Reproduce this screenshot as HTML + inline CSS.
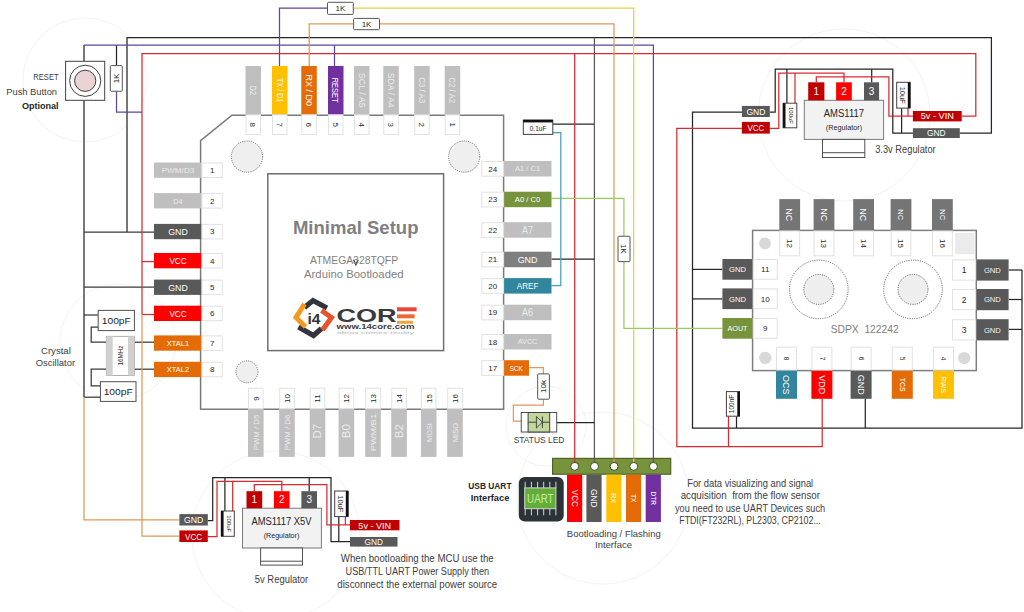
<!DOCTYPE html><html><head><meta charset="utf-8"><style>html,body{margin:0;padding:0;background:#fff;}svg{display:block;}text{font-family:"Liberation Sans",sans-serif;}</style></head><body>
<svg width="1024" height="612" viewBox="0 0 1024 612">
<rect x="0" y="0" width="1024" height="612" fill="#ffffff"/>
<circle cx="85" cy="80" r="62" fill="none" stroke="#f3f3f3" stroke-width="1"/>
<circle cx="118" cy="342" r="58" fill="none" stroke="#f3f3f3" stroke-width="1"/>
<circle cx="844" cy="115" r="86" fill="none" stroke="#f3f3f3" stroke-width="1"/>
<circle cx="276" cy="535" r="84" fill="none" stroke="#f3f3f3" stroke-width="1"/>
<circle cx="603" cy="498" r="86" fill="none" stroke="#f3f3f3" stroke-width="1"/>
<circle cx="546" cy="426" r="40" fill="none" stroke="#f3f3f3" stroke-width="1"/>
<polyline points="84,45 84,61.3" fill="none" stroke="#262626" stroke-width="1.25" stroke-linejoin="miter"/>
<polyline points="84,100.3 84,397.2" fill="none" stroke="#262626" stroke-width="1.25" stroke-linejoin="miter"/>
<polyline points="116.5,45 116.5,65.6" fill="none" stroke="#262626" stroke-width="1.25" stroke-linejoin="miter"/>
<polyline points="127,232 127,37.5 991.4,37.5 991.4,133.1 959.8,133.1" fill="none" stroke="#262626" stroke-width="1.25" stroke-linejoin="miter"/>
<polyline points="84,232 154,232" fill="none" stroke="#3a3a3a" stroke-width="1.25" stroke-linejoin="miter"/>
<polyline points="84,287 154,287" fill="none" stroke="#3a3a3a" stroke-width="1.25" stroke-linejoin="miter"/>
<polyline points="84,315 98.2,315" fill="none" stroke="#3a3a3a" stroke-width="1.25" stroke-linejoin="miter"/>
<polyline points="98.2,327 91.2,327 91.2,342.2 106.3,342.2" fill="none" stroke="#3a3a3a" stroke-width="1.25" stroke-linejoin="miter"/>
<polyline points="134.4,342.2 154,342.2" fill="none" stroke="#3a3a3a" stroke-width="1.25" stroke-linejoin="miter"/>
<polyline points="134.4,369.2 154,369.2" fill="none" stroke="#3a3a3a" stroke-width="1.25" stroke-linejoin="miter"/>
<polyline points="106.3,369.2 91.2,369.2 91.2,385.8 100.4,385.8" fill="none" stroke="#3a3a3a" stroke-width="1.25" stroke-linejoin="miter"/>
<polyline points="84,397.2 100.4,397.2" fill="none" stroke="#3a3a3a" stroke-width="1.25" stroke-linejoin="miter"/>
<polyline points="552.8,124 594.4,124" fill="none" stroke="#262626" stroke-width="1.25" stroke-linejoin="miter"/>
<polyline points="594.4,37.5 594.4,462" fill="none" stroke="#5a5a5a" stroke-width="1.25" stroke-linejoin="miter"/>
<polyline points="551.6,259.2 594.4,259.2" fill="none" stroke="#262626" stroke-width="1.25" stroke-linejoin="miter"/>
<polyline points="556.7,422.7 594.4,422.7" fill="none" stroke="#262626" stroke-width="1.25" stroke-linejoin="miter"/>
<polyline points="741.9,112.2 692.5,112.2 692.5,428 1022,428 1022,270" fill="none" stroke="#262626" stroke-width="1.25" stroke-linejoin="miter"/>
<polyline points="1008.7,270 1022,270" fill="none" stroke="#262626" stroke-width="1.25" stroke-linejoin="miter"/>
<polyline points="1008.7,299.5 1022,299.5" fill="none" stroke="#262626" stroke-width="1.25" stroke-linejoin="miter"/>
<polyline points="1008.7,329.4 1022,329.4" fill="none" stroke="#262626" stroke-width="1.25" stroke-linejoin="miter"/>
<polyline points="692.5,269.4 722.4,269.4" fill="none" stroke="#262626" stroke-width="1.25" stroke-linejoin="miter"/>
<polyline points="692.5,298.9 722.4,298.9" fill="none" stroke="#262626" stroke-width="1.25" stroke-linejoin="miter"/>
<polyline points="769.8,112.2 775.2,112.2 775.2,69.1 892.8,69.1 892.8,133.1 912.9,133.1" fill="none" stroke="#262626" stroke-width="1.25" stroke-linejoin="miter"/>
<polyline points="786.9,69.1 786.9,103.2" fill="none" stroke="#262626" stroke-width="1.25" stroke-linejoin="miter"/>
<polyline points="871.7,69.1 871.7,82.3" fill="none" stroke="#262626" stroke-width="1.25" stroke-linejoin="miter"/>
<polyline points="901.6,108.1 901.6,133.1" fill="none" stroke="#262626" stroke-width="1.25" stroke-linejoin="miter"/>
<polyline points="865.3,398.8 865.3,428" fill="none" stroke="#262626" stroke-width="1.25" stroke-linejoin="miter"/>
<polyline points="736.5,416.2 736.5,428" fill="none" stroke="#262626" stroke-width="1.25" stroke-linejoin="miter"/>
<polyline points="207.8,520.6 212.7,520.6 212.7,477.5 331,477.5 331,541.6 350,541.6" fill="none" stroke="#262626" stroke-width="1.25" stroke-linejoin="miter"/>
<polyline points="224.9,477.5 224.9,511" fill="none" stroke="#262626" stroke-width="1.25" stroke-linejoin="miter"/>
<polyline points="309.2,477.5 309.2,491.2" fill="none" stroke="#262626" stroke-width="1.25" stroke-linejoin="miter"/>
<polyline points="338.8,516.6 338.8,541.6" fill="none" stroke="#262626" stroke-width="1.25" stroke-linejoin="miter"/>
<polyline points="142,314.5 142,53.5 975.8,53.5 975.8,116.1 961.7,116.1" fill="none" stroke="#dc2a30" stroke-width="1.25" stroke-linejoin="miter"/>
<polyline points="142,261.6 154,261.6" fill="none" stroke="#dc2a30" stroke-width="1.25" stroke-linejoin="miter"/>
<polyline points="142,314.5 154,314.5" fill="none" stroke="#dc2a30" stroke-width="1.25" stroke-linejoin="miter"/>
<polyline points="574.7,53.5 574.7,462" fill="none" stroke="#dc2a30" stroke-width="1.25" stroke-linejoin="miter"/>
<polyline points="741.9,128.4 676.8,128.4 676.8,446.5 822.2,446.5 822.2,398.8" fill="none" stroke="#dc2a30" stroke-width="1.25" stroke-linejoin="miter"/>
<polyline points="728.5,416.2 728.5,446.5" fill="none" stroke="#dc2a30" stroke-width="1.25" stroke-linejoin="miter"/>
<polyline points="769.8,128.4 778.8,128.4 778.8,73 844,73 844,82.3" fill="none" stroke="#dc2a30" stroke-width="1.25" stroke-linejoin="miter"/>
<polyline points="795,73 795,103.2" fill="none" stroke="#dc2a30" stroke-width="1.25" stroke-linejoin="miter"/>
<polyline points="816.3,82.3 816.3,76.9 888.9,76.9 888.9,116.1 912.9,116.1" fill="none" stroke="#dc2a30" stroke-width="1.25" stroke-linejoin="miter"/>
<polyline points="908,108.1 908,116.1" fill="none" stroke="#dc2a30" stroke-width="1.25" stroke-linejoin="miter"/>
<polyline points="207.8,536.7 217,536.7 217,481.4 281.8,481.4 281.8,491.2" fill="none" stroke="#dc2a30" stroke-width="1.25" stroke-linejoin="miter"/>
<polyline points="232.7,481.4 232.7,511" fill="none" stroke="#dc2a30" stroke-width="1.25" stroke-linejoin="miter"/>
<polyline points="254.3,491.2 254.3,484.7 326.9,484.7 326.9,524.8 350,524.8" fill="none" stroke="#dc2a30" stroke-width="1.25" stroke-linejoin="miter"/>
<polyline points="345.4,516.6 345.4,524.8" fill="none" stroke="#dc2a30" stroke-width="1.25" stroke-linejoin="miter"/>
<polyline points="84,45 653.4,45 653.4,462" fill="none" stroke="#5e479c" stroke-width="1.25" stroke-linejoin="miter"/>
<polyline points="116.5,91.25 116.5,112 142,112" fill="none" stroke="#5e479c" stroke-width="1.25" stroke-linejoin="miter"/>
<polyline points="334.5,45 334.5,66" fill="none" stroke="#5e479c" stroke-width="1.25" stroke-linejoin="miter"/>
<polyline points="279.5,66 279.5,8.1 327.5,8.1" fill="none" stroke="#5e479c" stroke-width="1.25" stroke-linejoin="miter"/>
<polyline points="353.3,8.1 633.7,8.1 633.7,462" fill="none" stroke="#f2cc4a" stroke-width="1.25" stroke-linejoin="miter"/>
<polyline points="309.2,66 309.2,23.75 353.6,23.75" fill="none" stroke="#e0985a" stroke-width="1.25" stroke-linejoin="miter"/>
<polyline points="379.5,23.75 614,23.75 614,462" fill="none" stroke="#e0985a" stroke-width="1.25" stroke-linejoin="miter"/>
<polyline points="529,367.7 543.4,367.7 543.4,373.9" fill="none" stroke="#e0985a" stroke-width="1.25" stroke-linejoin="miter"/>
<polyline points="543.4,399.2 543.4,405 513.4,405 513.4,421.1 521.25,421.1" fill="none" stroke="#e0985a" stroke-width="1.25" stroke-linejoin="miter"/>
<polyline points="179.4,519.8 84,519.8 84,397.2" fill="none" stroke="#e0985a" stroke-width="1.25" stroke-linejoin="miter"/>
<polyline points="179.4,536.2 142,536.2 142,314.5" fill="none" stroke="#e0985a" stroke-width="1.25" stroke-linejoin="miter"/>
<polyline points="551.6,198.3 623.9,198.3 623.9,236.25" fill="none" stroke="#98cc5e" stroke-width="1.25" stroke-linejoin="miter"/>
<polyline points="623.9,261.6 623.9,328.4 722.4,328.4" fill="none" stroke="#98cc5e" stroke-width="1.25" stroke-linejoin="miter"/>
<polyline points="552.8,132.7 560.8,132.7 560.8,285.6 551.6,285.6" fill="none" stroke="#4a9eb8" stroke-width="1.25" stroke-linejoin="miter"/>
<rect x="65.6" y="61.3" width="39.1" height="39" fill="#fff" stroke="#404040" stroke-width="1"/>
<circle cx="85.2" cy="80.8" r="15.6" fill="#fff" stroke="#404040" stroke-width="1"/>
<circle cx="85.2" cy="80.8" r="10.6" fill="#ead3d3" stroke="#404040" stroke-width="1"/>
<text x="58.6" y="79.7" font-size="8.6" fill="#404040" text-anchor="end" textLength="25.3" lengthAdjust="spacingAndGlyphs">RESET</text>
<text x="57" y="95.3" font-size="8.6" fill="#404040" text-anchor="end" textLength="50.7" lengthAdjust="spacingAndGlyphs">Push Button</text>
<text x="58.6" y="109.4" font-size="8.6" fill="#262626" text-anchor="end" font-weight="bold" textLength="36.7" lengthAdjust="spacingAndGlyphs">Optional</text>
<rect x="110.3" y="65.6" width="12" height="25.65" fill="#fff" stroke="#555" stroke-width="1" rx="1"/>
<text x="116.3" y="81.3" font-size="8" fill="#262626" text-anchor="middle" transform="rotate(-90 116.3 78.42)">1K</text>
<rect x="327.5" y="2.3" width="25.8" height="12.1" fill="#fff" stroke="#555" stroke-width="1" rx="1"/>
<text x="340.4" y="11.23" font-size="8" fill="#262626" text-anchor="middle">1K</text>
<rect x="353.6" y="18.4" width="25.9" height="11.3" fill="#fff" stroke="#555" stroke-width="1" rx="1"/>
<text x="366.55" y="26.93" font-size="8" fill="#262626" text-anchor="middle">1K</text>
<rect x="618" y="236.25" width="12" height="25.35" fill="#fff" stroke="#555" stroke-width="1" rx="1"/>
<text x="624" y="251.62" font-size="7.5" fill="#262626" text-anchor="middle" transform="rotate(90 624 248.93)">1K</text>
<rect x="537.7" y="373.9" width="11.7" height="25.3" fill="#fff" stroke="#555" stroke-width="1" rx="1"/>
<text x="543.55" y="389.43" font-size="8" fill="#262626" text-anchor="middle" transform="rotate(-90 543.55 386.55)">10k</text>
<rect x="523.3" y="120.2" width="29.5" height="14.2" fill="#fff" stroke="#404040" stroke-width="1"/>
<rect x="523.3" y="119.7" width="29.5" height="2.7" fill="#111"/>
<text x="538.05" y="130.64" font-size="6.5" fill="#262626" text-anchor="middle">0.1uF</text>
<rect x="783.3" y="103.2" width="13.5" height="24.6" fill="#fff" stroke="#404040" stroke-width="1"/>
<rect x="782.8" y="103.2" width="2.7" height="24.6" fill="#111"/>
<text x="791.05" y="117.66" font-size="6" fill="#262626" text-anchor="middle" transform="rotate(90 791.05 115.5)">100uF</text>
<rect x="896.7" y="82.3" width="13.3" height="25.8" fill="#fff" stroke="#404040" stroke-width="1"/>
<rect x="907.8" y="82.3" width="2.7" height="25.8" fill="#111"/>
<text x="902.35" y="97.9" font-size="7.5" fill="#262626" text-anchor="middle" transform="rotate(90 902.35 95.2)">10uF</text>
<rect x="726.4" y="391.6" width="13.1" height="24.6" fill="#fff" stroke="#404040" stroke-width="1"/>
<rect x="737.3" y="391.6" width="2.7" height="24.6" fill="#111"/>
<text x="731.95" y="406.24" font-size="6.5" fill="#262626" text-anchor="middle" transform="rotate(-90 731.95 403.9)">100nF</text>
<rect x="221.4" y="511" width="12.9" height="25.3" fill="#fff" stroke="#404040" stroke-width="1"/>
<rect x="220.9" y="511" width="2.7" height="25.3" fill="#111"/>
<text x="228.85" y="525.81" font-size="6" fill="#262626" text-anchor="middle" transform="rotate(90 228.85 523.65)">100uF</text>
<rect x="334.7" y="491" width="13.3" height="25.6" fill="#fff" stroke="#404040" stroke-width="1"/>
<rect x="345.8" y="491" width="2.7" height="25.6" fill="#111"/>
<text x="340.35" y="506.5" font-size="7.5" fill="#262626" text-anchor="middle" transform="rotate(90 340.35 503.8)">10uF</text>
<rect x="98.2" y="310.4" width="36.2" height="20.2" fill="#fff" stroke="#505050" stroke-width="1"/>
<text x="116.3" y="323.92" font-size="9.5" fill="#262626" text-anchor="middle" textLength="29" lengthAdjust="spacingAndGlyphs">100pF</text>
<rect x="100.4" y="381.7" width="35.6" height="19.7" fill="#fff" stroke="#505050" stroke-width="1"/>
<text x="118.2" y="394.92" font-size="9.5" fill="#262626" text-anchor="middle" textLength="29" lengthAdjust="spacingAndGlyphs">100pF</text>
<rect x="106.3" y="336.3" width="28.1" height="39.3" fill="#fff" stroke="#9a9a9a" stroke-width="0.8"/>
<rect x="106.3" y="336.3" width="6.4" height="39.3" fill="#d0d0d0"/>
<rect x="128" y="336.3" width="6.4" height="39.3" fill="#d0d0d0"/>
<text x="120.7" y="358.02" font-size="7" fill="#262626" text-anchor="middle" textLength="20" lengthAdjust="spacingAndGlyphs" transform="rotate(-90 120.7 355.5)">16MHz</text>
<text x="55.9" y="353.5" font-size="9.5" fill="#404040" text-anchor="middle" textLength="29.8" lengthAdjust="spacingAndGlyphs">Crystal</text>
<text x="55.4" y="365.5" font-size="9.5" fill="#404040" text-anchor="middle" textLength="39.3" lengthAdjust="spacingAndGlyphs">Oscillator</text>
<path d="M231.9,115.2 L503.6,115.2 L503.6,409.2 L200.6,409.2 L200.6,140.6 Z" fill="#fff" stroke="#7a7a7a" stroke-width="1.5"/>
<rect x="267.8" y="173.8" width="175.8" height="176.8" fill="#fff" stroke="#6e6e6e" stroke-width="1.5"/>
<circle cx="247" cy="156.6" r="15.6" fill="#efefef" stroke="#444" stroke-width="0.8" stroke-dasharray="1 1.2"/>
<circle cx="464.2" cy="156.6" r="15.6" fill="#efefef" stroke="#444" stroke-width="0.8" stroke-dasharray="1 1.2"/>
<circle cx="247" cy="371.8" r="11" fill="#efefef" stroke="#444" stroke-width="0.8" stroke-dasharray="1 1.2"/>
<text x="355.7" y="234" font-size="18.2" fill="#7f7f7f" text-anchor="middle" font-weight="bold" textLength="125.5" lengthAdjust="spacingAndGlyphs">Minimal Setup</text>
<polyline points="353.6,259.8 355.9,264.8 358.2,259.8" fill="none" stroke="#333" stroke-width="1.3"/>
<text x="354.1" y="264" font-size="10.8" fill="#7f7f7f" text-anchor="middle" textLength="88" lengthAdjust="spacingAndGlyphs">ATMEGA328TQFP</text>
<text x="353.8" y="278.3" font-size="10.8" fill="#7f7f7f" text-anchor="middle" textLength="99.5" lengthAdjust="spacingAndGlyphs">Arduino Bootloaded</text>
<rect x="245.5" y="66" width="15.5" height="48.4" fill="#bfbfbf"/>
<rect x="246" y="114.9" width="14.5" height="19.6" fill="#fff" stroke="#e2e2e2" stroke-width="1"/>
<text x="253.25" y="93.3" font-size="8.6" fill="#ececec" text-anchor="middle" textLength="10" lengthAdjust="spacingAndGlyphs" transform="rotate(90 253.25 90.2)">D2</text>
<text x="253.25" y="127.58" font-size="8" fill="#262626" text-anchor="middle" transform="rotate(90 253.25 124.7)">8</text>
<rect x="272" y="66" width="15.5" height="48.4" fill="#ffc000"/>
<rect x="272.5" y="114.9" width="14.5" height="19.6" fill="#fff" stroke="#e2e2e2" stroke-width="1"/>
<text x="279.75" y="93.3" font-size="8.6" fill="#ffffff" text-anchor="middle" textLength="24.3" lengthAdjust="spacingAndGlyphs" transform="rotate(90 279.75 90.2)">TX / D1</text>
<text x="279.75" y="127.58" font-size="8" fill="#262626" text-anchor="middle" transform="rotate(90 279.75 124.7)">7</text>
<rect x="301.3" y="66" width="15.5" height="48.4" fill="#e36c09"/>
<rect x="301.8" y="114.9" width="14.5" height="19.6" fill="#fff" stroke="#e2e2e2" stroke-width="1"/>
<text x="309.05" y="93.3" font-size="8.6" fill="#ffffff" text-anchor="middle" textLength="31.5" lengthAdjust="spacingAndGlyphs" transform="rotate(90 309.05 90.2)">RX / D0</text>
<text x="309.05" y="127.58" font-size="8" fill="#262626" text-anchor="middle" transform="rotate(90 309.05 124.7)">6</text>
<rect x="328" y="66" width="15.5" height="48.4" fill="#7030a0"/>
<rect x="328.5" y="114.9" width="14.5" height="19.6" fill="#fff" stroke="#e2e2e2" stroke-width="1"/>
<text x="335.75" y="93.51" font-size="9.2" fill="#ffffff" text-anchor="middle" textLength="25" lengthAdjust="spacingAndGlyphs" transform="rotate(90 335.75 90.2)">RESET</text>
<text x="335.75" y="127.58" font-size="8" fill="#262626" text-anchor="middle" transform="rotate(90 335.75 124.7)">5</text>
<rect x="354" y="66" width="15.5" height="48.4" fill="#bfbfbf"/>
<rect x="354.5" y="114.9" width="14.5" height="19.6" fill="#fff" stroke="#e2e2e2" stroke-width="1"/>
<text x="361.75" y="93.3" font-size="8.6" fill="#ececec" text-anchor="middle" textLength="34.8" lengthAdjust="spacingAndGlyphs" transform="rotate(90 361.75 90.2)">SCL / A5</text>
<text x="361.75" y="127.58" font-size="8" fill="#262626" text-anchor="middle" transform="rotate(90 361.75 124.7)">4</text>
<rect x="383.3" y="66" width="15.5" height="48.4" fill="#bfbfbf"/>
<rect x="383.8" y="114.9" width="14.5" height="19.6" fill="#fff" stroke="#e2e2e2" stroke-width="1"/>
<text x="391.05" y="93.3" font-size="8.6" fill="#ececec" text-anchor="middle" textLength="34.8" lengthAdjust="spacingAndGlyphs" transform="rotate(90 391.05 90.2)">SDA / A4</text>
<text x="391.05" y="127.58" font-size="8" fill="#262626" text-anchor="middle" transform="rotate(90 391.05 124.7)">3</text>
<rect x="414.2" y="66" width="15.5" height="48.4" fill="#bfbfbf"/>
<rect x="414.7" y="114.9" width="14.5" height="19.6" fill="#fff" stroke="#e2e2e2" stroke-width="1"/>
<text x="421.95" y="93.3" font-size="8.6" fill="#ececec" text-anchor="middle" textLength="26" lengthAdjust="spacingAndGlyphs" transform="rotate(90 421.95 90.2)">C3 / A3</text>
<text x="421.95" y="127.58" font-size="8" fill="#262626" text-anchor="middle" transform="rotate(90 421.95 124.7)">2</text>
<rect x="444.7" y="66" width="15.5" height="48.4" fill="#bfbfbf"/>
<rect x="445.2" y="114.9" width="14.5" height="19.6" fill="#fff" stroke="#e2e2e2" stroke-width="1"/>
<text x="452.45" y="93.3" font-size="8.6" fill="#ececec" text-anchor="middle" textLength="26" lengthAdjust="spacingAndGlyphs" transform="rotate(90 452.45 90.2)">C2 / A2</text>
<text x="452.45" y="127.58" font-size="8" fill="#262626" text-anchor="middle" transform="rotate(90 452.45 124.7)">1</text>
<rect x="154" y="162.5" width="47.9" height="15.3" fill="#bfbfbf"/>
<rect x="201.9" y="163" width="20.4" height="14.5" fill="#fff" stroke="#e2e2e2" stroke-width="1"/>
<text x="178" y="173.03" font-size="8" fill="#ececec" text-anchor="middle" textLength="32.7" lengthAdjust="spacingAndGlyphs">PWM/D3</text>
<text x="212.2" y="173.03" font-size="8" fill="#262626" text-anchor="middle">1</text>
<rect x="154" y="193.1" width="47.9" height="15.3" fill="#bfbfbf"/>
<rect x="201.9" y="193.6" width="20.4" height="14.5" fill="#fff" stroke="#e2e2e2" stroke-width="1"/>
<text x="178" y="203.63" font-size="8" fill="#ececec" text-anchor="middle" textLength="9.5" lengthAdjust="spacingAndGlyphs">D4</text>
<text x="212.2" y="203.63" font-size="8" fill="#262626" text-anchor="middle">2</text>
<rect x="154" y="223.9" width="47.9" height="15.3" fill="#595959"/>
<rect x="201.9" y="224.4" width="20.4" height="14.5" fill="#fff" stroke="#e2e2e2" stroke-width="1"/>
<text x="178" y="234.86" font-size="9.2" fill="#ffffff" text-anchor="middle" textLength="19.5" lengthAdjust="spacingAndGlyphs">GND</text>
<text x="212.2" y="234.43" font-size="8" fill="#262626" text-anchor="middle">3</text>
<rect x="154" y="253" width="47.9" height="15.3" fill="#ff0000"/>
<rect x="201.9" y="253.5" width="20.4" height="14.5" fill="#fff" stroke="#e2e2e2" stroke-width="1"/>
<text x="178" y="263.96" font-size="9.2" fill="#ffffff" text-anchor="middle" textLength="17.2" lengthAdjust="spacingAndGlyphs">VCC</text>
<text x="212.2" y="263.53" font-size="8" fill="#262626" text-anchor="middle">4</text>
<rect x="154" y="279.6" width="47.9" height="15.3" fill="#595959"/>
<rect x="201.9" y="280.1" width="20.4" height="14.5" fill="#fff" stroke="#e2e2e2" stroke-width="1"/>
<text x="178" y="290.56" font-size="9.2" fill="#ffffff" text-anchor="middle" textLength="19.5" lengthAdjust="spacingAndGlyphs">GND</text>
<text x="212.2" y="290.13" font-size="8" fill="#262626" text-anchor="middle">5</text>
<rect x="154" y="305.7" width="47.9" height="15.3" fill="#ff0000"/>
<rect x="201.9" y="306.2" width="20.4" height="14.5" fill="#fff" stroke="#e2e2e2" stroke-width="1"/>
<text x="178" y="316.66" font-size="9.2" fill="#ffffff" text-anchor="middle" textLength="17.2" lengthAdjust="spacingAndGlyphs">VCC</text>
<text x="212.2" y="316.23" font-size="8" fill="#262626" text-anchor="middle">6</text>
<rect x="154" y="335.4" width="47.9" height="15.3" fill="#e36c09"/>
<rect x="201.9" y="335.9" width="20.4" height="14.5" fill="#fff" stroke="#e2e2e2" stroke-width="1"/>
<text x="178" y="345.75" font-size="7.5" fill="#ffffff" text-anchor="middle" textLength="22.3" lengthAdjust="spacingAndGlyphs">XTAL1</text>
<text x="212.2" y="345.93" font-size="8" fill="#262626" text-anchor="middle">7</text>
<rect x="154" y="361.8" width="47.9" height="15.3" fill="#e36c09"/>
<rect x="201.9" y="362.3" width="20.4" height="14.5" fill="#fff" stroke="#e2e2e2" stroke-width="1"/>
<text x="178" y="372.15" font-size="7.5" fill="#ffffff" text-anchor="middle" textLength="22.3" lengthAdjust="spacingAndGlyphs">XTAL2</text>
<text x="212.2" y="372.33" font-size="8" fill="#262626" text-anchor="middle">8</text>
<rect x="503.6" y="161" width="47.9" height="15.5" fill="#bfbfbf"/>
<rect x="481.8" y="161.5" width="21.8" height="14.7" fill="#fff" stroke="#e2e2e2" stroke-width="1"/>
<text x="527.55" y="171.45" font-size="7.5" fill="#ececec" text-anchor="middle" textLength="25.3" lengthAdjust="spacingAndGlyphs">A1 / C1</text>
<text x="492.7" y="171.63" font-size="8" fill="#262626" text-anchor="middle">24</text>
<rect x="503.6" y="191.7" width="47.9" height="15.5" fill="#77933c"/>
<rect x="481.8" y="192.2" width="21.8" height="14.7" fill="#fff" stroke="#e2e2e2" stroke-width="1"/>
<text x="527.55" y="202.15" font-size="7.5" fill="#ffffff" text-anchor="middle" textLength="25.5" lengthAdjust="spacingAndGlyphs">A0 / C0</text>
<text x="492.7" y="202.33" font-size="8" fill="#262626" text-anchor="middle">23</text>
<rect x="503.6" y="222.2" width="47.9" height="15.5" fill="#bfbfbf"/>
<rect x="481.8" y="222.7" width="21.8" height="14.7" fill="#fff" stroke="#e2e2e2" stroke-width="1"/>
<text x="527.55" y="233.55" font-size="10" fill="#ececec" text-anchor="middle" textLength="11" lengthAdjust="spacingAndGlyphs">A7</text>
<text x="492.7" y="232.83" font-size="8" fill="#262626" text-anchor="middle">22</text>
<rect x="503.6" y="251.7" width="47.9" height="15.5" fill="#7f7f7f"/>
<rect x="481.8" y="252.2" width="21.8" height="14.7" fill="#fff" stroke="#e2e2e2" stroke-width="1"/>
<text x="527.55" y="262.87" font-size="9.5" fill="#ffffff" text-anchor="middle" textLength="19.8" lengthAdjust="spacingAndGlyphs">GND</text>
<text x="492.7" y="262.33" font-size="8" fill="#262626" text-anchor="middle">21</text>
<rect x="503.6" y="278.1" width="47.9" height="15.5" fill="#31859c"/>
<rect x="481.8" y="278.6" width="21.8" height="14.7" fill="#fff" stroke="#e2e2e2" stroke-width="1"/>
<text x="527.55" y="289.27" font-size="9.5" fill="#ffffff" text-anchor="middle" textLength="21.6" lengthAdjust="spacingAndGlyphs">AREF</text>
<text x="492.7" y="288.73" font-size="8" fill="#262626" text-anchor="middle">20</text>
<rect x="503.6" y="304.7" width="47.9" height="15.5" fill="#bfbfbf"/>
<rect x="481.8" y="305.2" width="21.8" height="14.7" fill="#fff" stroke="#e2e2e2" stroke-width="1"/>
<text x="527.55" y="316.05" font-size="10" fill="#ececec" text-anchor="middle" textLength="11" lengthAdjust="spacingAndGlyphs">A6</text>
<text x="492.7" y="315.33" font-size="8" fill="#262626" text-anchor="middle">19</text>
<rect x="503.6" y="334" width="47.9" height="15.5" fill="#bfbfbf"/>
<rect x="481.8" y="334.5" width="21.8" height="14.7" fill="#fff" stroke="#e2e2e2" stroke-width="1"/>
<text x="527.55" y="344.45" font-size="7.5" fill="#ececec" text-anchor="middle" textLength="19.5" lengthAdjust="spacingAndGlyphs">AVCC</text>
<text x="492.7" y="344.63" font-size="8" fill="#262626" text-anchor="middle">18</text>
<rect x="503.6" y="360.2" width="25.4" height="15.5" fill="#e36c09"/>
<rect x="481.8" y="360.7" width="21.8" height="14.7" fill="#fff" stroke="#e2e2e2" stroke-width="1"/>
<text x="516.3" y="370.65" font-size="7.5" fill="#ffffff" text-anchor="middle" textLength="13" lengthAdjust="spacingAndGlyphs">SCK</text>
<text x="492.7" y="370.83" font-size="8" fill="#262626" text-anchor="middle">17</text>
<rect x="248" y="409" width="15.6" height="47.9" fill="#bfbfbf"/>
<rect x="248.5" y="388.2" width="14.6" height="20.4" fill="#fff" stroke="#e2e2e2" stroke-width="1"/>
<text x="255.8" y="435.38" font-size="8" fill="#ececec" text-anchor="middle" textLength="35.5" lengthAdjust="spacingAndGlyphs" transform="rotate(-90 255.8 432.5)">PWM / D5</text>
<text x="255.8" y="401.38" font-size="8" fill="#262626" text-anchor="middle" transform="rotate(-90 255.8 398.5)">9</text>
<rect x="279.2" y="409" width="15.6" height="47.9" fill="#bfbfbf"/>
<rect x="279.7" y="388.2" width="14.6" height="20.4" fill="#fff" stroke="#e2e2e2" stroke-width="1"/>
<text x="287" y="435.38" font-size="8" fill="#ececec" text-anchor="middle" textLength="35.5" lengthAdjust="spacingAndGlyphs" transform="rotate(-90 287 432.5)">PWM / D6</text>
<text x="287" y="401.38" font-size="8" fill="#262626" text-anchor="middle" transform="rotate(-90 287 398.5)">10</text>
<rect x="309.7" y="409" width="15.6" height="47.9" fill="#bfbfbf"/>
<rect x="310.2" y="388.2" width="14.6" height="20.4" fill="#fff" stroke="#e2e2e2" stroke-width="1"/>
<text x="317.5" y="434.98" font-size="10.5" fill="#ececec" text-anchor="middle" textLength="14.5" lengthAdjust="spacingAndGlyphs" transform="rotate(-90 317.5 431.2)">D7</text>
<text x="317.5" y="401.38" font-size="8" fill="#262626" text-anchor="middle" transform="rotate(-90 317.5 398.5)">11</text>
<rect x="338.6" y="409" width="15.6" height="47.9" fill="#bfbfbf"/>
<rect x="339.1" y="388.2" width="14.6" height="20.4" fill="#fff" stroke="#e2e2e2" stroke-width="1"/>
<text x="346.4" y="434.98" font-size="10.5" fill="#ececec" text-anchor="middle" textLength="14" lengthAdjust="spacingAndGlyphs" transform="rotate(-90 346.4 431.2)">B0</text>
<text x="346.4" y="401.38" font-size="8" fill="#262626" text-anchor="middle" transform="rotate(-90 346.4 398.5)">12</text>
<rect x="365.2" y="409" width="15.6" height="47.9" fill="#bfbfbf"/>
<rect x="365.7" y="388.2" width="14.6" height="20.4" fill="#fff" stroke="#e2e2e2" stroke-width="1"/>
<text x="373" y="435.38" font-size="8" fill="#ececec" text-anchor="middle" textLength="37.5" lengthAdjust="spacingAndGlyphs" transform="rotate(-90 373 432.5)">PWM/B1</text>
<text x="373" y="401.38" font-size="8" fill="#262626" text-anchor="middle" transform="rotate(-90 373 398.5)">13</text>
<rect x="391.25" y="409" width="15.6" height="47.9" fill="#bfbfbf"/>
<rect x="391.75" y="388.2" width="14.6" height="20.4" fill="#fff" stroke="#e2e2e2" stroke-width="1"/>
<text x="399.05" y="434.98" font-size="10.5" fill="#ececec" text-anchor="middle" textLength="14" lengthAdjust="spacingAndGlyphs" transform="rotate(-90 399.05 431.2)">B2</text>
<text x="399.05" y="401.38" font-size="8" fill="#262626" text-anchor="middle" transform="rotate(-90 399.05 398.5)">14</text>
<rect x="420.9" y="409" width="15.6" height="47.9" fill="#bfbfbf"/>
<rect x="421.4" y="388.2" width="14.6" height="20.4" fill="#fff" stroke="#e2e2e2" stroke-width="1"/>
<text x="428.7" y="435.38" font-size="8" fill="#ececec" text-anchor="middle" textLength="18.75" lengthAdjust="spacingAndGlyphs" transform="rotate(-90 428.7 432.5)">MOSI</text>
<text x="428.7" y="401.38" font-size="8" fill="#262626" text-anchor="middle" transform="rotate(-90 428.7 398.5)">15</text>
<rect x="447.2" y="409" width="15.6" height="47.9" fill="#bfbfbf"/>
<rect x="447.7" y="388.2" width="14.6" height="20.4" fill="#fff" stroke="#e2e2e2" stroke-width="1"/>
<text x="455" y="435.38" font-size="8" fill="#ececec" text-anchor="middle" textLength="19.5" lengthAdjust="spacingAndGlyphs" transform="rotate(-90 455 432.5)">MISO</text>
<text x="455" y="401.38" font-size="8" fill="#262626" text-anchor="middle" transform="rotate(-90 455 398.5)">16</text>
<g fill="none" stroke-linejoin="miter" stroke-linecap="butt">
<polyline points="304.5,307.5 313,300.5 327,308" stroke="#34343c" stroke-width="5.2"/>
<polyline points="298.5,327 313.5,335.5 321.5,328.5" stroke="#34343c" stroke-width="5.2"/>
<polyline points="304.5,304 296,317.5 305.5,327" stroke="#f39a1e" stroke-width="5"/>
<polyline points="321.5,310.5 331.5,317.5 322.5,330" stroke="#e8522b" stroke-width="5"/>
</g>
<text x="314" y="323.5" font-size="14" fill="#34343c" text-anchor="middle" font-weight="bold" textLength="13" lengthAdjust="spacingAndGlyphs">i4</text>
<text x="336.4" y="321.9" font-size="19" fill="#3a3a42" font-weight="bold" textLength="60.2" lengthAdjust="spacingAndGlyphs">COR</text>
<rect x="397" y="307.3" width="19.6" height="4" fill="#e8463a"/>
<rect x="397" y="314.3" width="17.6" height="4" fill="#ea6a35"/>
<rect x="397" y="320.8" width="16" height="3" fill="#f3a43a"/>
<text x="336.5" y="329.4" font-size="6.5" fill="#3a3a42" font-weight="bold" textLength="78" lengthAdjust="spacingAndGlyphs">www.14core.com</text>
<text x="337" y="334.2" font-size="3.6" fill="#b4b4b4" textLength="77" lengthAdjust="spacingAndGlyphs">ideas  comes  reality</text>
<rect x="521.25" y="412.5" width="35.45" height="19.5" fill="#fff" stroke="#505050" stroke-width="1"/>
<rect x="528.1" y="412.5" width="21.6" height="19.5" fill="#c3d69b" stroke="#404040" stroke-width="1"/>
<polyline points="528.1,422.2 549.7,422.2" fill="none" stroke="#404040" stroke-width="1" stroke-linejoin="miter"/>
<path d="M536.4,416.5 L542.4,422.2 L536.4,428 Z" fill="#c3d69b" stroke="#404040" stroke-width="0.9"/>
<polyline points="542.4,416.5 542.4,428" fill="none" stroke="#404040" stroke-width="1" stroke-linejoin="miter"/>
<text x="539" y="443.3" font-size="9.2" fill="#404040" text-anchor="middle" textLength="50.7" lengthAdjust="spacingAndGlyphs">STATUS LED</text>
<rect x="552.6" y="458.4" width="118.1" height="15.8" fill="#77933c" stroke="#4f6228" stroke-width="1.2"/>
<polyline points="574.7,458.4 574.7,462.5" fill="none" stroke="#dc2a30" stroke-width="1.25" stroke-linejoin="miter"/>
<circle cx="574.7" cy="466.4" r="4" fill="#fff" stroke="#3a4a1e" stroke-width="1"/>
<polyline points="594.5,458.4 594.5,462.5" fill="none" stroke="#5a5a5a" stroke-width="1.25" stroke-linejoin="miter"/>
<circle cx="594.5" cy="466.4" r="4" fill="#fff" stroke="#3a4a1e" stroke-width="1"/>
<polyline points="614.1,458.4 614.1,462.5" fill="none" stroke="#e0985a" stroke-width="1.25" stroke-linejoin="miter"/>
<circle cx="614.1" cy="466.4" r="4" fill="#fff" stroke="#3a4a1e" stroke-width="1"/>
<polyline points="633.7,458.4 633.7,462.5" fill="none" stroke="#f2cc4a" stroke-width="1.25" stroke-linejoin="miter"/>
<circle cx="633.7" cy="466.4" r="4" fill="#fff" stroke="#3a4a1e" stroke-width="1"/>
<polyline points="653.4,458.4 653.4,462.5" fill="none" stroke="#5e479c" stroke-width="1.25" stroke-linejoin="miter"/>
<circle cx="653.4" cy="466.4" r="4" fill="#fff" stroke="#3a4a1e" stroke-width="1"/>
<rect x="567" y="474.6" width="15.2" height="47.4" fill="#ff0000"/>
<text x="574.6" y="501.36" font-size="8.5" fill="#ffffff" text-anchor="middle" textLength="17" lengthAdjust="spacingAndGlyphs" transform="rotate(90 574.6 498.3)">VCC</text>
<rect x="586.4" y="474.6" width="15.2" height="47.4" fill="#595959"/>
<text x="594" y="501.36" font-size="8.5" fill="#ffffff" text-anchor="middle" textLength="18.6" lengthAdjust="spacingAndGlyphs" transform="rotate(90 594 498.3)">GND</text>
<rect x="606.3" y="474.6" width="15.2" height="47.4" fill="#ffc000"/>
<text x="613.9" y="501" font-size="7.5" fill="#ffffff" text-anchor="middle" textLength="10" lengthAdjust="spacingAndGlyphs" transform="rotate(90 613.9 498.3)">RX</text>
<rect x="626" y="474.6" width="15.2" height="47.4" fill="#e36c09"/>
<text x="633.6" y="501" font-size="7.5" fill="#ffffff" text-anchor="middle" textLength="8" lengthAdjust="spacingAndGlyphs" transform="rotate(90 633.6 498.3)">TX</text>
<rect x="645.7" y="474.6" width="15.2" height="47.4" fill="#7030a0"/>
<text x="653.3" y="501" font-size="7.5" fill="#ffffff" text-anchor="middle" textLength="13.4" lengthAdjust="spacingAndGlyphs" transform="rotate(90 653.3 498.3)">DTR</text>
<rect x="518.8" y="476.9" width="44.9" height="44.6" fill="#2b3238" rx="6"/>
<polyline points="525.2,481.8 525.2,488" fill="none" stroke="#e8e8e8" stroke-width="0.9" stroke-linejoin="miter"/>
<polyline points="525.2,508.7 525.2,515.3" fill="none" stroke="#e8e8e8" stroke-width="0.9" stroke-linejoin="miter"/>
<polyline points="531.4,481.8 531.4,488" fill="none" stroke="#e8e8e8" stroke-width="0.9" stroke-linejoin="miter"/>
<polyline points="531.4,508.7 531.4,515.3" fill="none" stroke="#e8e8e8" stroke-width="0.9" stroke-linejoin="miter"/>
<polyline points="537.6,481.8 537.6,488" fill="none" stroke="#e8e8e8" stroke-width="0.9" stroke-linejoin="miter"/>
<polyline points="537.6,508.7 537.6,515.3" fill="none" stroke="#e8e8e8" stroke-width="0.9" stroke-linejoin="miter"/>
<polyline points="543.7,481.8 543.7,488" fill="none" stroke="#e8e8e8" stroke-width="0.9" stroke-linejoin="miter"/>
<polyline points="543.7,508.7 543.7,515.3" fill="none" stroke="#e8e8e8" stroke-width="0.9" stroke-linejoin="miter"/>
<polyline points="549.8,481.8 549.8,488" fill="none" stroke="#e8e8e8" stroke-width="0.9" stroke-linejoin="miter"/>
<polyline points="549.8,508.7 549.8,515.3" fill="none" stroke="#e8e8e8" stroke-width="0.9" stroke-linejoin="miter"/>
<polyline points="555.9,481.8 555.9,488" fill="none" stroke="#e8e8e8" stroke-width="0.9" stroke-linejoin="miter"/>
<polyline points="555.9,508.7 555.9,515.3" fill="none" stroke="#e8e8e8" stroke-width="0.9" stroke-linejoin="miter"/>
<rect x="524.7" y="487.9" width="31.2" height="20.8" fill="#64ad3a" stroke="#cfd8cf" stroke-width="1"/>
<text x="540.3" y="503.3" font-size="12" fill="#c8eea0" text-anchor="middle" textLength="26.4" lengthAdjust="spacingAndGlyphs">UART</text>
<text x="489.9" y="488.9" font-size="9.6" fill="#262626" text-anchor="middle" font-weight="bold" textLength="43.3" lengthAdjust="spacingAndGlyphs">USB UART</text>
<text x="490" y="501.1" font-size="9.6" fill="#262626" text-anchor="middle" font-weight="bold" textLength="38.7" lengthAdjust="spacingAndGlyphs">Interface</text>
<text x="613.8" y="536.6" font-size="9.8" fill="#404040" text-anchor="middle" textLength="94" lengthAdjust="spacingAndGlyphs">Bootloading / Flashing</text>
<text x="613.5" y="548.4" font-size="9.8" fill="#404040" text-anchor="middle" textLength="37" lengthAdjust="spacingAndGlyphs">Interface</text>
<text x="750.2" y="487" font-size="10" fill="#404040" text-anchor="middle" textLength="126" lengthAdjust="spacingAndGlyphs">For data visualizing and signal</text>
<text x="750.3" y="499.1" font-size="10" fill="#404040" text-anchor="middle" textLength="139.3" lengthAdjust="spacingAndGlyphs">acquisition&#160; from the flow sensor</text>
<text x="750.1" y="511.6" font-size="10" fill="#404040" text-anchor="middle" textLength="150.2" lengthAdjust="spacingAndGlyphs">you need to use UART Devices such</text>
<text x="750" y="523.9" font-size="10" fill="#404040" text-anchor="middle" textLength="141.5" lengthAdjust="spacingAndGlyphs">FTDI(FT232RL), PL2303, CP2102...</text>
<rect x="741.9" y="105.9" width="27.9" height="11.1" fill="#595959"/>
<text x="755.85" y="114.69" font-size="9" fill="#ffffff" text-anchor="middle" textLength="18.9" lengthAdjust="spacingAndGlyphs">GND</text>
<rect x="741.9" y="121.9" width="27.9" height="11.7" fill="#c00000"/>
<text x="755.85" y="130.99" font-size="9" fill="#ffffff" text-anchor="middle" textLength="16.7" lengthAdjust="spacingAndGlyphs">VCC</text>
<rect x="804.3" y="100.3" width="79.3" height="39.1" fill="#f2f2f2" stroke="#7a7a7a" stroke-width="1"/>
<rect x="822.5" y="139.4" width="42.3" height="18.1" fill="#fff" stroke="#505050" stroke-width="1"/>
<polyline points="822.5,152.7 864.8,152.7" fill="none" stroke="#505050" stroke-width="1" stroke-linejoin="miter"/>
<rect x="808.2" y="82.3" width="16.2" height="18" fill="#c00000"/>
<text x="816.3" y="94.9" font-size="10" fill="#ffffff" text-anchor="middle">1</text>
<rect x="836.1" y="82.3" width="15.7" height="18" fill="#ff0000"/>
<text x="843.95" y="94.9" font-size="10" fill="#ffffff" text-anchor="middle">2</text>
<rect x="864" y="82.3" width="15.1" height="18" fill="#595959"/>
<text x="871.55" y="94.9" font-size="10" fill="#ffffff" text-anchor="middle">3</text>
<text x="843.9" y="117.1" font-size="10" fill="#262626" text-anchor="middle" textLength="40.2" lengthAdjust="spacingAndGlyphs">AMS1117</text>
<text x="844" y="129.8" font-size="7.5" fill="#262626" text-anchor="middle" textLength="36.3" lengthAdjust="spacingAndGlyphs">(Regulator)</text>
<text x="875.2" y="152.7" font-size="10" fill="#404040" textLength="60.5" lengthAdjust="spacingAndGlyphs">3.3v Regulator</text>
<rect x="912.9" y="111" width="48.8" height="10.4" fill="#c00000"/>
<text x="937.3" y="119.44" font-size="9" fill="#ffffff" text-anchor="middle" textLength="33.3" lengthAdjust="spacingAndGlyphs">5v - VIN</text>
<rect x="912.9" y="128.2" width="46.9" height="9.8" fill="#595959"/>
<text x="936.35" y="136.34" font-size="9" fill="#ffffff" text-anchor="middle" textLength="18.7" lengthAdjust="spacingAndGlyphs">GND</text>
<rect x="179.4" y="514.1" width="28.4" height="11.4" fill="#595959"/>
<text x="193.6" y="523.22" font-size="9.5" fill="#ffffff" text-anchor="middle" textLength="19.2" lengthAdjust="spacingAndGlyphs">GND</text>
<rect x="179.4" y="530.4" width="28.4" height="11.6" fill="#c00000"/>
<text x="193.6" y="539.62" font-size="9.5" fill="#ffffff" text-anchor="middle" textLength="17" lengthAdjust="spacingAndGlyphs">VCC</text>
<rect x="242.5" y="508.2" width="78.9" height="39.8" fill="#f2f2f2" stroke="#7a7a7a" stroke-width="1"/>
<rect x="260.6" y="548" width="41.9" height="17.1" fill="#fff" stroke="#505050" stroke-width="1"/>
<polyline points="260.6,561.2 302.5,561.2" fill="none" stroke="#505050" stroke-width="1" stroke-linejoin="miter"/>
<rect x="246.5" y="491.2" width="15.7" height="17" fill="#c00000"/>
<text x="254.35" y="503.3" font-size="10" fill="#ffffff" text-anchor="middle">1</text>
<rect x="273.9" y="491.2" width="15.7" height="17" fill="#ff0000"/>
<text x="281.75" y="503.3" font-size="10" fill="#ffffff" text-anchor="middle">2</text>
<rect x="301.4" y="491.2" width="15.6" height="17" fill="#595959"/>
<text x="309.2" y="503.3" font-size="10" fill="#ffffff" text-anchor="middle">3</text>
<text x="281.5" y="525.3" font-size="10" fill="#262626" text-anchor="middle" textLength="60.2" lengthAdjust="spacingAndGlyphs">AMS1117 X5V</text>
<text x="281.5" y="537.6" font-size="7.5" fill="#262626" text-anchor="middle" textLength="35.7" lengthAdjust="spacingAndGlyphs">(Regulator)</text>
<text x="281.5" y="583.1" font-size="10" fill="#404040" text-anchor="middle" textLength="53.5" lengthAdjust="spacingAndGlyphs">5v Regulator</text>
<rect x="350" y="520" width="49.5" height="10.3" fill="#c00000"/>
<text x="374.75" y="528.57" font-size="9.5" fill="#ffffff" text-anchor="middle" textLength="32.8" lengthAdjust="spacingAndGlyphs">5v - VIN</text>
<rect x="350" y="537" width="47.5" height="9.6" fill="#595959"/>
<text x="373.75" y="545.22" font-size="9.5" fill="#ffffff" text-anchor="middle" textLength="18.4" lengthAdjust="spacingAndGlyphs">GND</text>
<text x="417.3" y="562" font-size="10" fill="#404040" text-anchor="middle" textLength="152.9" lengthAdjust="spacingAndGlyphs">When bootloading the MCU use the</text>
<text x="417.3" y="574.9" font-size="10" fill="#404040" text-anchor="middle" textLength="143.5" lengthAdjust="spacingAndGlyphs">USB/TTL UART Power Supply then</text>
<text x="417.3" y="587.5" font-size="10" fill="#404040" text-anchor="middle" textLength="159.9" lengthAdjust="spacingAndGlyphs">disconnect the external power source</text>
<rect x="752.6" y="230.4" width="223.7" height="140.2" fill="#fff" stroke="#7f7f7f" stroke-width="1.5"/>
<rect x="779.3" y="199.1" width="20.8" height="31.3" fill="#757575"/>
<text x="789.7" y="217.94" font-size="9" fill="#ffffff" text-anchor="middle" transform="rotate(90 789.7 214.7)">NC</text>
<rect x="779.8" y="231" width="19.8" height="24.8" fill="#fff" stroke="#e2e2e2" stroke-width="1"/>
<text x="789.7" y="246.28" font-size="8" fill="#262626" text-anchor="middle" transform="rotate(90 789.7 243.4)">12</text>
<rect x="813.6" y="199.1" width="20.8" height="31.3" fill="#757575"/>
<text x="824" y="217.94" font-size="9" fill="#ffffff" text-anchor="middle" transform="rotate(90 824 214.7)">NC</text>
<rect x="814.1" y="231" width="19.8" height="24.8" fill="#fff" stroke="#e2e2e2" stroke-width="1"/>
<text x="824" y="246.28" font-size="8" fill="#262626" text-anchor="middle" transform="rotate(90 824 243.4)">13</text>
<rect x="853.2" y="199.1" width="20.8" height="31.3" fill="#757575"/>
<text x="863.6" y="217.94" font-size="9" fill="#ffffff" text-anchor="middle" transform="rotate(90 863.6 214.7)">NC</text>
<rect x="853.7" y="231" width="19.8" height="24.8" fill="#fff" stroke="#e2e2e2" stroke-width="1"/>
<text x="863.6" y="246.28" font-size="8" fill="#262626" text-anchor="middle" transform="rotate(90 863.6 243.4)">14</text>
<rect x="890.6" y="199.1" width="20.8" height="31.3" fill="#757575"/>
<text x="901" y="217.4" font-size="7.5" fill="#ffffff" text-anchor="middle" transform="rotate(90 901 214.7)">NC</text>
<rect x="891.1" y="231" width="19.8" height="24.8" fill="#fff" stroke="#e2e2e2" stroke-width="1"/>
<text x="901" y="246.28" font-size="8" fill="#262626" text-anchor="middle" transform="rotate(90 901 243.4)">15</text>
<rect x="932" y="199.1" width="20.8" height="31.3" fill="#757575"/>
<text x="942.4" y="217.4" font-size="7.5" fill="#ffffff" text-anchor="middle" transform="rotate(90 942.4 214.7)">NC</text>
<rect x="932.5" y="231" width="19.8" height="24.8" fill="#fff" stroke="#e2e2e2" stroke-width="1"/>
<text x="942.4" y="246.28" font-size="8" fill="#262626" text-anchor="middle" transform="rotate(90 942.4 243.4)">16</text>
<rect x="955" y="233" width="19.5" height="21.2" fill="#ebebeb"/>
<circle cx="765" cy="243.4" r="6" fill="#d8d8d8"/>
<circle cx="765.3" cy="357.9" r="6.2" fill="#d8d8d8"/>
<circle cx="964.2" cy="358.1" r="6.2" fill="#d8d8d8"/>
<rect x="722.4" y="259" width="30.2" height="20.7" fill="#595959"/>
<text x="737.5" y="272.23" font-size="8" fill="#ffffff" text-anchor="middle" textLength="17" lengthAdjust="spacingAndGlyphs">GND</text>
<rect x="753.2" y="259.5" width="24.1" height="19.7" fill="#fff" stroke="#e2e2e2" stroke-width="1"/>
<text x="765.2" y="272.23" font-size="8" fill="#262626" text-anchor="middle">11</text>
<rect x="722.4" y="288.4" width="30.2" height="20.7" fill="#595959"/>
<text x="737.5" y="301.63" font-size="8" fill="#ffffff" text-anchor="middle" textLength="17" lengthAdjust="spacingAndGlyphs">GND</text>
<rect x="753.2" y="288.9" width="24.1" height="19.7" fill="#fff" stroke="#e2e2e2" stroke-width="1"/>
<text x="765.2" y="301.63" font-size="8" fill="#262626" text-anchor="middle">10</text>
<rect x="722.4" y="318" width="30.2" height="20.7" fill="#77933c"/>
<text x="737.5" y="331.23" font-size="8" fill="#ffffff" text-anchor="middle" textLength="20" lengthAdjust="spacingAndGlyphs">AOUT</text>
<rect x="753.2" y="318.5" width="24.1" height="19.7" fill="#fff" stroke="#e2e2e2" stroke-width="1"/>
<text x="765.2" y="331.23" font-size="8" fill="#262626" text-anchor="middle">9</text>
<rect x="976.3" y="259.4" width="32.3" height="21.2" fill="#595959"/>
<text x="992.4" y="272.88" font-size="8" fill="#f0f0f0" text-anchor="middle" textLength="17" lengthAdjust="spacingAndGlyphs">GND</text>
<rect x="952.5" y="259.9" width="23.2" height="20.2" fill="#fff" stroke="#e2e2e2" stroke-width="1"/>
<text x="964.1" y="273.06" font-size="8.5" fill="#262626" text-anchor="middle">1</text>
<rect x="976.3" y="289" width="32.3" height="21.2" fill="#595959"/>
<text x="992.4" y="302.48" font-size="8" fill="#f0f0f0" text-anchor="middle" textLength="17" lengthAdjust="spacingAndGlyphs">GND</text>
<rect x="952.5" y="289.5" width="23.2" height="20.2" fill="#fff" stroke="#e2e2e2" stroke-width="1"/>
<text x="964.1" y="302.66" font-size="8.5" fill="#262626" text-anchor="middle">2</text>
<rect x="976.3" y="319.2" width="32.3" height="21.2" fill="#595959"/>
<text x="992.4" y="332.68" font-size="8" fill="#f0f0f0" text-anchor="middle" textLength="17" lengthAdjust="spacingAndGlyphs">GND</text>
<rect x="952.5" y="319.7" width="23.2" height="20.2" fill="#fff" stroke="#e2e2e2" stroke-width="1"/>
<text x="964.1" y="332.86" font-size="8.5" fill="#262626" text-anchor="middle">3</text>
<rect x="776" y="370.6" width="21" height="28.2" fill="#31859c"/>
<text x="786.5" y="387.94" font-size="9" fill="#ffffff" text-anchor="middle" transform="rotate(90 786.5 384.7)">OCS</text>
<rect x="776.5" y="347.2" width="20" height="22.8" fill="#fff" stroke="#e2e2e2" stroke-width="1"/>
<text x="786.5" y="360.94" font-size="6.5" fill="#262626" text-anchor="middle" transform="rotate(90 786.5 358.6)">8</text>
<rect x="811.4" y="370.6" width="21" height="28.2" fill="#ff0000"/>
<text x="821.9" y="387.94" font-size="9" fill="#ffffff" text-anchor="middle" transform="rotate(90 821.9 384.7)">VDD</text>
<rect x="811.9" y="347.2" width="20" height="22.8" fill="#fff" stroke="#e2e2e2" stroke-width="1"/>
<text x="821.9" y="360.94" font-size="6.5" fill="#262626" text-anchor="middle" transform="rotate(90 821.9 358.6)">7</text>
<rect x="850.6" y="370.6" width="21" height="28.2" fill="#595959"/>
<text x="861.1" y="387.94" font-size="9" fill="#ffffff" text-anchor="middle" transform="rotate(90 861.1 384.7)">GND</text>
<rect x="851.1" y="347.2" width="20" height="22.8" fill="#fff" stroke="#e2e2e2" stroke-width="1"/>
<text x="861.1" y="360.94" font-size="6.5" fill="#262626" text-anchor="middle" transform="rotate(90 861.1 358.6)">6</text>
<rect x="891.8" y="370.6" width="21" height="28.2" fill="#e36c09"/>
<text x="902.3" y="387.22" font-size="7" fill="#ffffff" text-anchor="middle" transform="rotate(90 902.3 384.7)">TCS</text>
<rect x="892.3" y="347.2" width="20" height="22.8" fill="#fff" stroke="#e2e2e2" stroke-width="1"/>
<text x="902.3" y="360.94" font-size="6.5" fill="#262626" text-anchor="middle" transform="rotate(90 902.3 358.6)">5</text>
<rect x="933" y="370.6" width="21" height="28.2" fill="#ffc000"/>
<text x="943.5" y="387.22" font-size="7" fill="#ffffff" text-anchor="middle" transform="rotate(90 943.5 384.7)">RWS</text>
<rect x="933.5" y="347.2" width="20" height="22.8" fill="#fff" stroke="#e2e2e2" stroke-width="1"/>
<text x="943.5" y="360.94" font-size="6.5" fill="#262626" text-anchor="middle" transform="rotate(90 943.5 358.6)">4</text>
<circle cx="818.8" cy="289.4" r="29.3" fill="none" stroke="#333" stroke-width="0.8" stroke-dasharray="1 1.3"/>
<circle cx="818.8" cy="289.4" r="15" fill="#eeeeee" stroke="#333" stroke-width="0.8" stroke-dasharray="1 1.3"/>
<circle cx="913" cy="289.4" r="29.3" fill="none" stroke="#333" stroke-width="0.8" stroke-dasharray="1 1.3"/>
<circle cx="913" cy="289.4" r="15" fill="#eeeeee" stroke="#333" stroke-width="0.8" stroke-dasharray="1 1.3"/>
<text x="830.7" y="333" font-size="11" fill="#7f7f7f" textLength="68" lengthAdjust="spacingAndGlyphs">SDPX&#160; 122242</text>
</svg></body></html>
